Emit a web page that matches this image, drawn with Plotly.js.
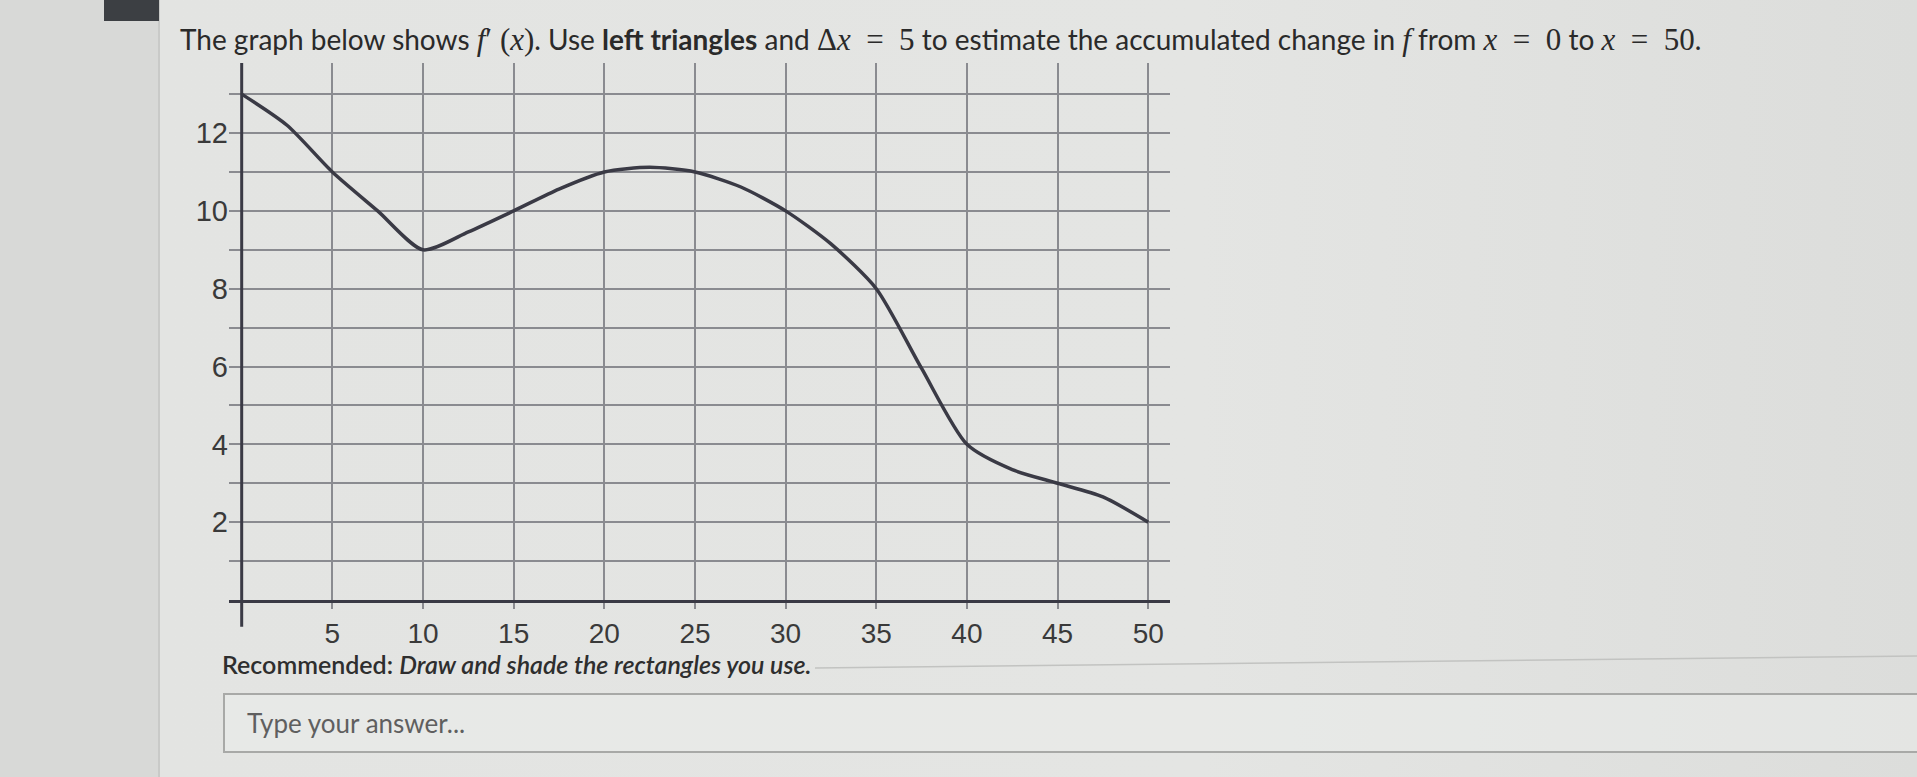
<!DOCTYPE html>
<html>
<head>
<meta charset="utf-8">
<script src="https://cdn.plot.ly/plotly-3.0.1.min.js"></script>
<style>
  html, body { margin: 0; padding: 0; width: 1917px; height: 777px; overflow: hidden; }
  body {
    background: linear-gradient(to right, #d8d9d7 0px, #d8d9d7 158px, #c9cac8 158px, #c9cac8 160px, #e3e4e2 160px, #e4e5e3 1200px, #dcdddb 1917px);
    position: relative;
  }
  #tab { position: absolute; left: 104px; top: 0; width: 55px; height: 21px; background: #3c3f43; }
  #chart { position: absolute; left: 0; top: 0; width: 1917px; height: 777px; }
</style>
</head>
<body>
<div id="tab"></div>
<div id="chart"></div>
<script>
// f'(x)
const xValues = [0, 2.5, 5, 7.5, 10, 12.5, 15, 17.5, 20, 22.5, 25, 27.5, 30, 32.5, 35, 37.5, 40, 42.5, 45, 47.5, 50];
const yValues = [13, 12.2, 11, 10.0, 9, 9.46, 10, 10.56, 11, 11.12, 11, 10.62, 10, 9.15, 8, 5.95, 4, 3.35, 3, 2.65, 2];

// axis ticks / gridlines
const xTickVals = [0, 5, 10, 15, 20, 25, 30, 35, 40, 45, 50];
const xTickText = ['', '5', '10', '15', '20', '25', '30', '35', '40', '45', '50'];
const yTickVals = [1, 2, 3, 4, 5, 6, 7, 8, 9, 10, 11, 12, 13];
const yTickText = ['', '2', '', '4', '', '6', '', '8', '', '10', '', '12', ''];

const xRange = [-0.7, 51.2];
const yRange = [0, 13.8];

const gridColor = '#8a8b90';
const inkColor = '#3a3a45';

const trace = {
  type: 'scatter',
  mode: 'lines',
  x: xValues,
  y: yValues,
  line: { color: inkColor, width: 3.5, shape: 'spline', smoothing: 0.7 },
  hoverinfo: 'skip',
  showlegend: false
};

const m = s => '<span style="font-family:\'Liberation Serif\', \'DejaVu Serif\', serif;font-size:31px">' + s + '</span>';
const titleText =
  'The graph below shows ' + m('<i>f</i>′&nbsp;(<i>x</i>)') + '. ' +
  'Use <b>left triangles</b> and ' + m('Δ<i>x</i>&nbsp;&nbsp;=&nbsp;&nbsp;5') + ' ' +
  'to estimate the accumulated change in ' + m('<i>f</i>') + ' from ' +
  m('<i>x</i>&nbsp;&nbsp;=&nbsp;&nbsp;0') + ' to ' + m('<i>x</i>&nbsp;&nbsp;=&nbsp;&nbsp;50') + '.';

// plot area in pixels: left 229, width 941, top 63, bottom 600
const L = 229, W = 941, B = 600, H = 537;
const px = v => (v - L) / W;
const py = v => (B - v) / H;

const layout = {
  width: 1917,
  height: 777,
  margin: { l: L, r: 1917 - L - W, t: 63, b: 777 - B },
  paper_bgcolor: 'rgba(0,0,0,0)',
  plot_bgcolor: 'rgba(0,0,0,0)',
  font: { family: 'Lato, "Liberation Sans", sans-serif', color: '#2b2b2b' },
  title: {
    text: titleText,
    xref: 'container', yref: 'container',
    x: 180 / 1917, xanchor: 'left',
    y: 1 - 40 / 777, yanchor: 'middle',
    font: { family: 'Lato, sans-serif', size: 28, color: '#2a2a2a' }
  },
  xaxis: {
    range: xRange,
    tickmode: 'array',
    tickvals: xTickVals,
    ticktext: xTickText,
    showgrid: true,
    gridcolor: gridColor,
    gridwidth: 2,
    zeroline: false,
    showline: true,
    linecolor: inkColor,
    linewidth: 3,
    ticks: 'outside',
    ticklen: 6,
    tickwidth: 2,
    tickcolor: gridColor,
    tickfont: { family: '"Liberation Sans", Arial, sans-serif', size: 28, color: '#3a3a3a' },
    fixedrange: true
  },
  yaxis: {
    range: yRange,
    tickmode: 'array',
    tickvals: yTickVals,
    ticktext: yTickText,
    showgrid: true,
    gridcolor: gridColor,
    gridwidth: 2,
    zeroline: false,
    showline: false,
    ticks: '',
    tickfont: { family: '"Liberation Sans", Arial, sans-serif', size: 29, color: '#3a3a3a' },
    fixedrange: true
  },
  shapes: [
    // y-axis line (extends a bit below the x-axis)
    { type: 'line', xref: 'x', yref: 'paper', x0: 0, x1: 0, y0: -0.05, y1: 1,
      line: { color: inkColor, width: 3 } },
    // faint divider line to the right of the "Recommended" text
    { type: 'line', xref: 'paper', yref: 'paper', x0: px(815), x1: px(1917), y0: py(668), y1: py(656),
      line: { color: '#c2c3c1', width: 1.5 } },
    // answer box
    { type: 'rect', xref: 'paper', yref: 'paper', x0: px(224), x1: px(1940), y0: py(694), y1: py(752),
      fillcolor: 'rgba(236,237,235,0.5)', line: { color: '#a8a9a7', width: 2 } }
  ],
  annotations: [
    { xref: 'paper', yref: 'paper', x: px(220), y: py(664), xanchor: 'left', yanchor: 'middle',
      showarrow: false,
      text: 'Recommended: <i>Draw and shade the rectangles you use.</i>',
      font: { family: 'Lato, sans-serif', size: 25, color: '#2e2e2e', weight: 600 } },
    { xref: 'paper', yref: 'paper', x: px(245), y: py(723), xanchor: 'left', yanchor: 'middle',
      showarrow: false,
      text: 'Type your answer...',
      font: { family: 'Lato, sans-serif', size: 26, color: '#5f5f5f' } }
  ]
};

Plotly.newPlot('chart', [trace], layout, { staticPlot: true, displayModeBar: false });
</script>
</body>
</html>
